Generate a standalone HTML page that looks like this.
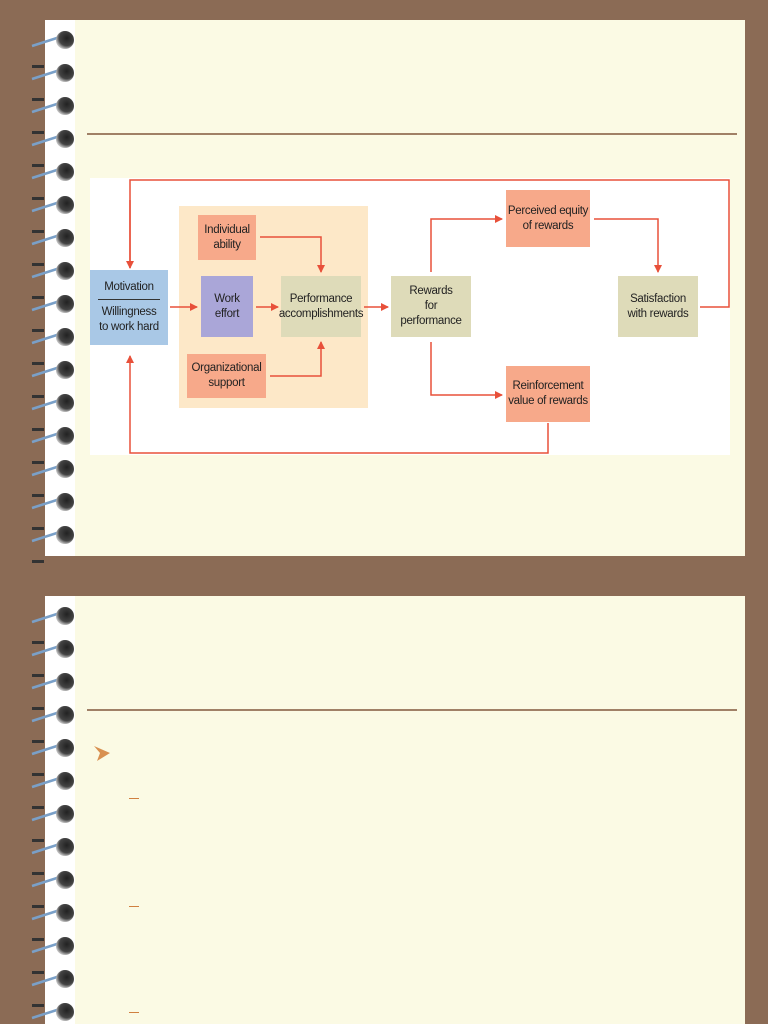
<!DOCTYPE html>
<html><head><style>
body{margin:0;width:768px;height:1024px;background:#8b6b55;position:relative;overflow:hidden;font-family:"Liberation Sans",sans-serif}
.slide{position:absolute;left:45px;width:700px;background:#fbfae4}
.strip{position:absolute;left:0;top:0;bottom:0;width:30px;background:#fff}
.b{position:absolute;display:flex;align-items:center;justify-content:center;text-align:center;font-size:11.5px;line-height:15px;color:#222;letter-spacing:-0.3px}
</style></head><body>
<div class="slide" style="top:20px;height:536px"><div class="strip"></div>
<div style="position:absolute;left:42px;top:113px;width:650px;height:2px;background:#a08066"></div></div>
<div class="slide" style="top:596px;height:428px"><div class="strip"></div>
<div style="position:absolute;left:42px;top:113px;width:650px;height:2px;background:#a08066"></div>
<div style="position:absolute;left:84px;top:202px;width:10px;height:1px;background:#d08040"></div>
<div style="position:absolute;left:84px;top:310px;width:10px;height:1px;background:#d08040"></div>
<div style="position:absolute;left:84px;top:416px;width:10px;height:1px;background:#d08040"></div>
</div>
<svg width="768" height="1024" style="position:absolute;left:0;top:0">
<defs>
<radialGradient id="rg" cx="0.6" cy="0.4" r="0.6"><stop offset="0" stop-color="#222"/><stop offset="0.7" stop-color="#444"/><stop offset="1" stop-color="#bbb"/></radialGradient>
<g id="ring"><line x1="32" y1="6" x2="60" y2="-3" stroke="#7aa0c8" stroke-width="2.5"/><circle cx="65" cy="0" r="9" fill="url(#rg)"/><rect x="32" y="25" width="12" height="3" fill="#333"/></g>
<marker id="a" markerWidth="8" markerHeight="8" refX="7" refY="4" orient="auto" markerUnits="userSpaceOnUse"><path d="M0,0L8,4L0,8z" fill="#e8503a"/></marker>
</defs>
<g>
<use href="#ring" y="40"/><use href="#ring" y="73"/><use href="#ring" y="106"/><use href="#ring" y="139"/><use href="#ring" y="172"/><use href="#ring" y="205"/><use href="#ring" y="238"/><use href="#ring" y="271"/><use href="#ring" y="304"/><use href="#ring" y="337"/><use href="#ring" y="370"/><use href="#ring" y="403"/><use href="#ring" y="436"/><use href="#ring" y="469"/><use href="#ring" y="502"/><use href="#ring" y="535"/>
<use href="#ring" y="616"/><use href="#ring" y="649"/><use href="#ring" y="682"/><use href="#ring" y="715"/><use href="#ring" y="748"/><use href="#ring" y="781"/><use href="#ring" y="814"/><use href="#ring" y="847"/><use href="#ring" y="880"/><use href="#ring" y="913"/><use href="#ring" y="946"/><use href="#ring" y="979"/><use href="#ring" y="1012"/>
</g>
<path d="M94,746L110,753L97,761L100,753z" fill="#d89050"/>
<rect x="90" y="178" width="640" height="277" fill="#fff"/>
<rect x="179" y="206" width="189" height="202" fill="#fde8c8"/>
<g fill="none" stroke="#e8503a" stroke-width="1.5">
<path d="M130,268V180H729V307H700"/>
<path d="M548,423V453H130V356" marker-end="url(#a)"/>
<path d="M130,200V268" marker-end="url(#a)"/>
<path d="M170,307H197" marker-end="url(#a)"/>
<path d="M256,307H278" marker-end="url(#a)"/>
<path d="M260,237H321V272" marker-end="url(#a)"/>
<path d="M270,376H321V342" marker-end="url(#a)"/>
<path d="M364,307H388" marker-end="url(#a)"/>
<path d="M431,272V219H502" marker-end="url(#a)"/>
<path d="M431,342V395H502" marker-end="url(#a)"/>
<path d="M594,219H658V272" marker-end="url(#a)"/>
</g>
</svg>
<div class="b" style="left:90px;top:270px;width:78px;height:75px;background:#a9c8e6;flex-direction:column">Motivation<div style="width:62px;height:1px;background:#333;margin:4px 0 5px"></div>Willingness<br>to work hard</div>
<div class="b" style="left:198px;top:215px;width:58px;height:45px;background:#f7a98a">Individual<br>ability</div>
<div class="b" style="left:201px;top:276px;width:52px;height:61px;background:#aaa6d8">Work<br>effort</div>
<div class="b" style="left:281px;top:276px;width:80px;height:61px;background:#dedbb9">Performance<br>accomplishments</div>
<div class="b" style="left:187px;top:354px;width:79px;height:44px;background:#f7a98a">Organizational<br>support</div>
<div class="b" style="left:391px;top:276px;width:80px;height:61px;background:#dedbb9">Rewards<br>for<br>performance</div>
<div class="b" style="left:506px;top:190px;width:84px;height:57px;background:#f7a98a">Perceived equity<br>of rewards</div>
<div class="b" style="left:506px;top:366px;width:84px;height:56px;background:#f7a98a">Reinforcement<br>value of rewards</div>
<div class="b" style="left:618px;top:276px;width:80px;height:61px;background:#dedbb9">Satisfaction<br>with rewards</div>
</body></html>
